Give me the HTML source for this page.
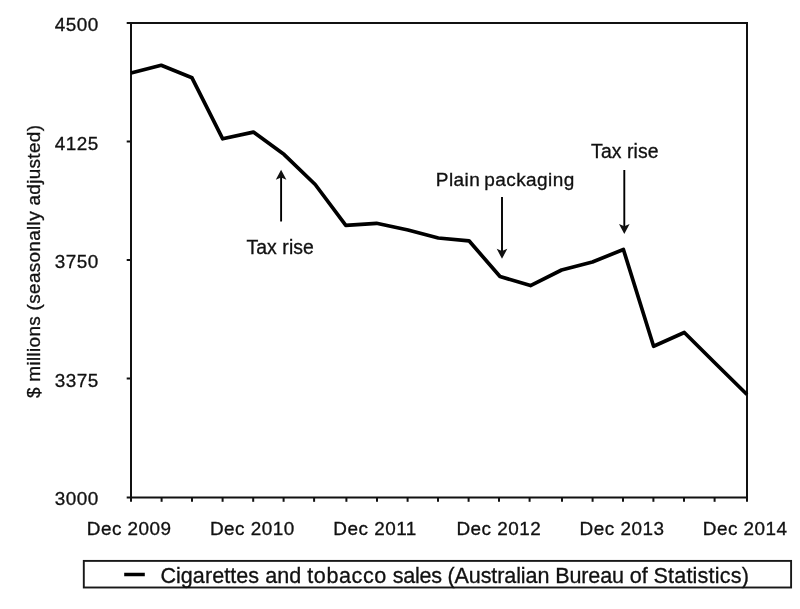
<!DOCTYPE html>
<html>
<head>
<meta charset="utf-8">
<title>Cigarettes and tobacco sales</title>
<style>
html,body{margin:0;padding:0;background:#fff;}
body{width:800px;height:609px;overflow:hidden;}
svg{display:block;}
text{font-family:"Liberation Sans",sans-serif;font-size:18.9px;letter-spacing:0.27px;fill:#111;stroke:#111;stroke-width:0.32px;}
.yl text{letter-spacing:0.5px;}
.xl text{letter-spacing:0.5px;}
</style>
</head>
<body>
<svg width="800" height="609" viewBox="0 0 800 609">
<rect width="800" height="609" fill="#fff"/>
<!-- plot frame -->
<rect x="131" y="23" width="616" height="474.5" fill="none" stroke="#111" stroke-width="2"/>
<!-- y ticks -->
<g stroke="#111" stroke-width="2">
<line x1="126.7" y1="23" x2="131" y2="23"/>
<line x1="126.7" y1="141.5" x2="131" y2="141.5"/>
<line x1="126.7" y1="260" x2="131" y2="260"/>
<line x1="126.7" y1="378.5" x2="131" y2="378.5"/>
<line x1="126.7" y1="497.5" x2="131" y2="497.5"/>
</g>
<!-- x ticks -->
<g id="xticks" stroke="#111" stroke-width="2">
<line x1="131.0" y1="497.5" x2="131.0" y2="501.8"/>
<line x1="161.6" y1="497.5" x2="161.6" y2="501.8"/>
<line x1="192.0" y1="497.5" x2="192.0" y2="501.8"/>
<line x1="222.6" y1="497.5" x2="222.6" y2="501.8"/>
<line x1="253.2" y1="497.5" x2="253.2" y2="501.8"/>
<line x1="283.6" y1="497.5" x2="283.6" y2="501.8"/>
<line x1="314.1" y1="497.5" x2="314.1" y2="501.8"/>
<line x1="346.4" y1="497.5" x2="346.4" y2="501.8"/>
<line x1="377.0" y1="497.5" x2="377.0" y2="501.8"/>
<line x1="407.6" y1="497.5" x2="407.6" y2="501.8"/>
<line x1="438.0" y1="497.5" x2="438.0" y2="501.8"/>
<line x1="468.6" y1="497.5" x2="468.6" y2="501.8"/>
<line x1="499.0" y1="497.5" x2="499.0" y2="501.8"/>
<line x1="529.6" y1="497.5" x2="529.6" y2="501.8"/>
<line x1="562.0" y1="497.5" x2="562.0" y2="501.8"/>
<line x1="592.6" y1="497.5" x2="592.6" y2="501.8"/>
<line x1="623.0" y1="497.5" x2="623.0" y2="501.8"/>
<line x1="653.4" y1="497.5" x2="653.4" y2="501.8"/>
<line x1="684.0" y1="497.5" x2="684.0" y2="501.8"/>
<line x1="714.6" y1="497.5" x2="714.6" y2="501.8"/>
<line x1="747.0" y1="497.5" x2="747.0" y2="501.8"/>
</g>
<!-- y labels -->
<g text-anchor="end" class="yl">
<text x="98.7" y="31.2">4500</text>
<text x="98.7" y="149.8">4125</text>
<text x="98.7" y="268.3">3750</text>
<text x="98.7" y="386.8">3375</text>
<text x="98.7" y="504.9">3000</text>
</g>
<!-- x labels -->
<g text-anchor="middle" class="xl">
<text x="129.2" y="534.8">Dec 2009</text>
<text x="252.4" y="534.8">Dec 2010</text>
<text x="375.1" y="534.8">Dec 2011</text>
<text x="498.9" y="534.8">Dec 2012</text>
<text x="622.0" y="534.8">Dec 2013</text>
<text x="745.2" y="534.8">Dec 2014</text>
</g>
<!-- y title -->
<text transform="translate(39.8,398.1) rotate(-90)" style="letter-spacing:0.34px">$ millions (seasonally adjusted)</text>
<!-- data line -->
<polyline fill="none" stroke="#000" stroke-width="3.7" stroke-linejoin="round" points="131,73 161.2,65.3 192,77.8 222.7,138.8 253.4,132.1 284.2,154.6 315.2,184.5 345.8,225.3 376.5,223.3 408,230 438.3,238 469,240.8 500,276.5 530.5,285.6 561.6,270 592.4,262 623.4,249.5 653.6,346.3 684.3,332.5 715.5,363.5 747,394.5"/>
<!-- annotations -->
<g stroke="#000" stroke-width="1.9" fill="none">
<line x1="281.1" y1="221.5" x2="281.1" y2="174"/>
<line x1="502" y1="197" x2="502" y2="254"/>
<line x1="624.3" y1="170" x2="624.3" y2="229.5"/>
</g>
<g fill="#111">
<path d="M281.1,169.7 L286.4,179.7 L281.1,177.5 L275.8,179.7 Z"/>
<path d="M502.0,258.8 L507.3,248.8 L502.0,251.0 L496.7,248.8 Z"/>
<path d="M624.3,234.0 L629.6,224.0 L624.3,226.2 L619.0,224.0 Z"/>
</g>
<text x="246.4" y="254.1" style="font-size:19.4px;letter-spacing:0.1px">Tax rise</text>
<text x="435.8" y="186" style="font-size:19px;letter-spacing:0.43px;word-spacing:-1.7px">Plain packaging</text>
<text x="591.1" y="157.7" style="font-size:19.4px;letter-spacing:0.1px">Tax rise</text>
<!-- legend -->
<rect x="83.8" y="560.9" width="707.3" height="26.6" fill="#fff" stroke="#181818" stroke-width="1.9"/>
<line x1="124.2" y1="574.5" x2="144.8" y2="574.5" stroke="#000" stroke-width="3.5"/>
<text x="160.4" y="582.5" style="font-size:21.55px;letter-spacing:0.05px" xml:space="preserve">Cigarettes and <tspan style="letter-spacing:0.6px">tobacco</tspan><tspan style="letter-spacing:-0.25px"> sales </tspan><tspan style="letter-spacing:-0.11px">(Australian Bureau of </tspan><tspan style="letter-spacing:0.2px">Statistics)</tspan></text>
</svg>
</body>
</html>
